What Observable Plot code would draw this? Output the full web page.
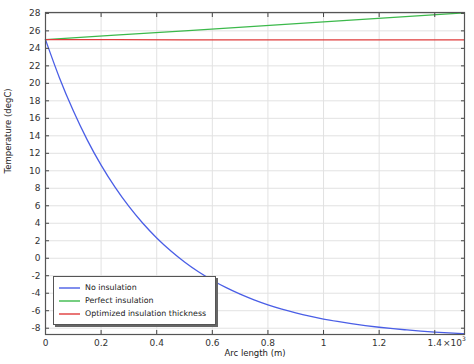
<!DOCTYPE html>
<html>
<head>
<meta charset="utf-8">
<script src="https://cdn.jsdelivr.net/npm/d3@7"></script>
<script src="https://cdn.jsdelivr.net/npm/@observablehq/plot@0.6"></script>
<style>
  html, body { margin: 0; padding: 0; background: #fff; }
  #wrap { position: relative; width: 474px; height: 364px; font-family: "DejaVu Sans", sans-serif; }
  #legend { position: absolute; left: 53px; top: 276px; width: 163px; height: 49px; background: #fff;
            border: 1px solid #555; box-shadow: 2px 2px 0 #666; font-size: 7.9px; color: #222; box-sizing: border-box; }
  .row { display: flex; align-items: center; height: 13px; padding-left: 5px; white-space: nowrap; }
  .row:first-child { margin-top: 4px; }
  .row svg { flex: none; margin-right: 5px; }
  #exp { position: absolute; left: 443px; top: 336px; font-size: 9px; color: #333; }
  #exp sup { font-size: 6px; position: relative; top: -1px; }
</style>
</head>
<body>
<div id="wrap"><div id="chart"></div>
<div id="legend"></div>
<div id="exp">×10<sup>3</sup></div>
</div>
<script>
// Arc length in units of 10^3 m
const arcX = [0, 0.05, 0.1, 0.15, 0.2, 0.25, 0.3, 0.35, 0.4, 0.45, 0.5, 0.55, 0.6, 0.65, 0.7, 0.75, 0.8, 0.85, 0.9, 0.95, 1.0, 1.05, 1.1, 1.15, 1.2, 1.25, 1.3, 1.35, 1.4, 1.45, 1.5, 1.507];
const noInsulation = [25, 20.65, 16.86, 13.54, 10.65, 8.13, 5.92, 4.00, 2.32, 0.86, -0.42, -1.54, -2.51, -3.36, -4.10, -4.75, -5.32, -5.81, -6.24, -6.62, -6.95, -7.23, -7.48, -7.70, -7.89, -8.06, -8.20, -8.33, -8.44, -8.54, -8.62, -8.63];
const perfectX = [0, 0.5, 1.0, 1.507];
const perfectInsulation = [25, 26.01, 27.02, 28.05];
const optimizedX = [0, 0.5, 1.0, 1.507];
const optimizedInsulation = [25, 24.98, 24.97, 24.96];

const seriesNames = ["No insulation", "Perfect insulation", "Optimized insulation thickness"];
const seriesColors = ["#4a5ee6", "#3cb94b", "#e03c3c"];

const xTicks = [0, 0.2, 0.4, 0.6, 0.8, 1.0, 1.2, 1.4];
const yTicks = [-8, -6, -4, -2, 0, 2, 4, 6, 8, 10, 12, 14, 16, 18, 20, 22, 24, 26, 28];
const xLabel = "Arc length (m)";
const yLabel = "Temperature (degC)";

const rows = [];
arcX.forEach((x, i) => rows.push({x, y: noInsulation[i], s: seriesNames[0]}));
perfectX.forEach((x, i) => rows.push({x, y: perfectInsulation[i], s: seriesNames[1]}));
optimizedX.forEach((x, i) => rows.push({x, y: optimizedInsulation[i], s: seriesNames[2]}));

const fmt = d => String(+d.toFixed(1));

const chart = Plot.plot({
  width: 474, height: 364,
  marginLeft: 45, marginRight: 10, marginTop: 12, marginBottom: 30,
  style: {fontFamily: "DejaVu Sans, sans-serif", fontSize: "9px", color: "#333", background: "#fff"},
  x: {domain: [0, 1.507]},
  y: {domain: [-8.72, 28.1]},
  color: {domain: seriesNames, range: seriesColors},
  marks: [
    Plot.gridX(xTicks, {stroke: "#e2e2e2", strokeOpacity: 1}),
    Plot.gridY(yTicks, {stroke: "#e2e2e2", strokeOpacity: 1}),
    Plot.line(rows, {x: "x", y: "y", z: "s", stroke: "s", strokeWidth: 1.3, curve: "monotone-x"}),
    Plot.axisX(xTicks, {anchor: "bottom", tickSize: -4, tickFormat: () => "", label: null, stroke: "#444"}),
    Plot.axisX(xTicks, {anchor: "top", tickSize: -4, tickFormat: () => "", label: null, stroke: "#444"}),
    Plot.axisY(yTicks, {anchor: "left", tickSize: -4, tickFormat: () => "", label: null, stroke: "#444"}),
    Plot.axisY(yTicks, {anchor: "right", tickSize: -4, tickFormat: () => "", label: null, stroke: "#444"}),
    Plot.axisX(xTicks, {anchor: "bottom", tickSize: 0, tickPadding: 5, tickFormat: fmt, label: null, fill: "#333"}),
    Plot.axisY(yTicks, {anchor: "left", tickSize: 0, tickPadding: 5, tickFormat: fmt, label: null, fill: "#333"}),
    Plot.text([xLabel], {text: d => d, frameAnchor: "bottom", dy: 21, fill: "#222", fontSize: 8.5}),
    Plot.text([yLabel], {text: d => d, frameAnchor: "left", dx: -37, rotate: -90, fill: "#222", fontSize: 8.5}),
    Plot.frame({stroke: "#555", strokeWidth: 1.2})
  ]
});
document.getElementById("chart").appendChild(chart);

const leg = document.getElementById("legend");
seriesNames.forEach((n, i) => {
  const r = document.createElement("div");
  r.className = "row";
  r.innerHTML = `<svg width="21" height="4"><line x1="0" x2="21" y1="2" y2="2" stroke="${seriesColors[i]}" stroke-width="1.4"/></svg><span>${n}</span>`;
  leg.appendChild(r);
});
</script>
</body>
</html>
